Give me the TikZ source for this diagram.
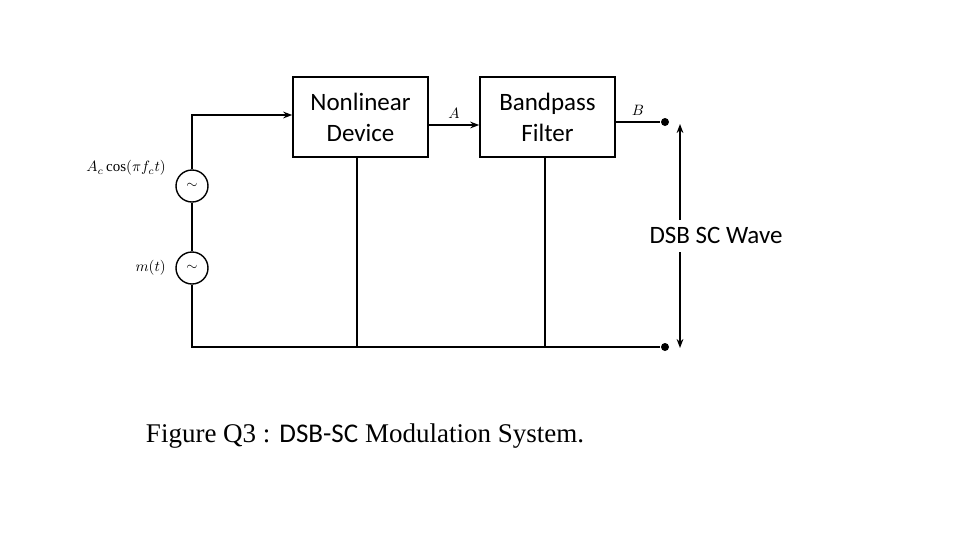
\documentclass[tikz,border=0pt]{standalone}
\usepackage{fontspec}
\setsansfont{Carlito}
\setmainfont{Liberation Serif}
\usetikzlibrary{arrows.meta}
\begin{document}
\begin{tikzpicture}[x=1pt,y=-1pt,line width=1.6pt,
  blk/.style={draw,minimum width=135pt,minimum height=80pt,font=\sffamily\fontsize{25}{31}\selectfont,align=center},
  src/.style={draw,circle,minimum size=32pt,inner sep=0pt,line width=1.4pt,scale=1},
  dotn/.style={circle,fill,inner sep=0pt,minimum size=8pt},
  lbl/.style={scale=1.5}]
\useasboundingbox (0,0) rectangle (972,542);
\node[blk] (nl) at (360.5,117) {Nonlinear\\Device};
\node[blk] (bp) at (547.5,117) {Bandpass\\Filter};
\node[src] (s1) at (192,186) {\Large$\sim$};
\node[src] (s2) at (192,268) {\Large$\sim$};
\node[dotn] (B) at (665,122) {};
\node[dotn] (G) at (665,347) {};
\coordinate (bl) at (192,347);
\coordinate (tl) at (192,115);
\coordinate (n1) at (357,347);
\coordinate (n2) at (545,347);
\draw[-{Stealth[length=9pt]}] (s1.north) -- (tl) -- (nl.west |- tl);
\draw[-{Stealth[length=9pt]}] (nl.east |- 0,125) -- node[lbl,above]{$A$} (bp.west |- 0,125);
\draw (bp.east |- B) -- node[lbl,above]{$B$} (B);
\draw (s1) -- (s2);
\draw (s2.south) -- (bl) -- (G);
\draw (357,157) -- (n1);
\draw (545,157) -- (n2);
\node[font=\sffamily\fontsize{25}{30}\selectfont] (w) at (716,235) {DSB SC Wave};
\draw[-{Stealth[length=9pt]}] (680,220) -- (680,124);
\draw[-{Stealth[length=9pt]}] (680,252) -- (680,348);
\node[lbl,left] (l1) at (172,168) {$A_c\,\textrm{cos}(\pi f_c t)$};
\node[lbl,left] (l2) at (172,268) {$m(t)$};
\node[font=\fontsize{27}{32}\selectfont] (cap) at (365,436) {Figure Q3 : \textsf{DSB-SC} Modulation System.};
\end{tikzpicture}
\end{document}
